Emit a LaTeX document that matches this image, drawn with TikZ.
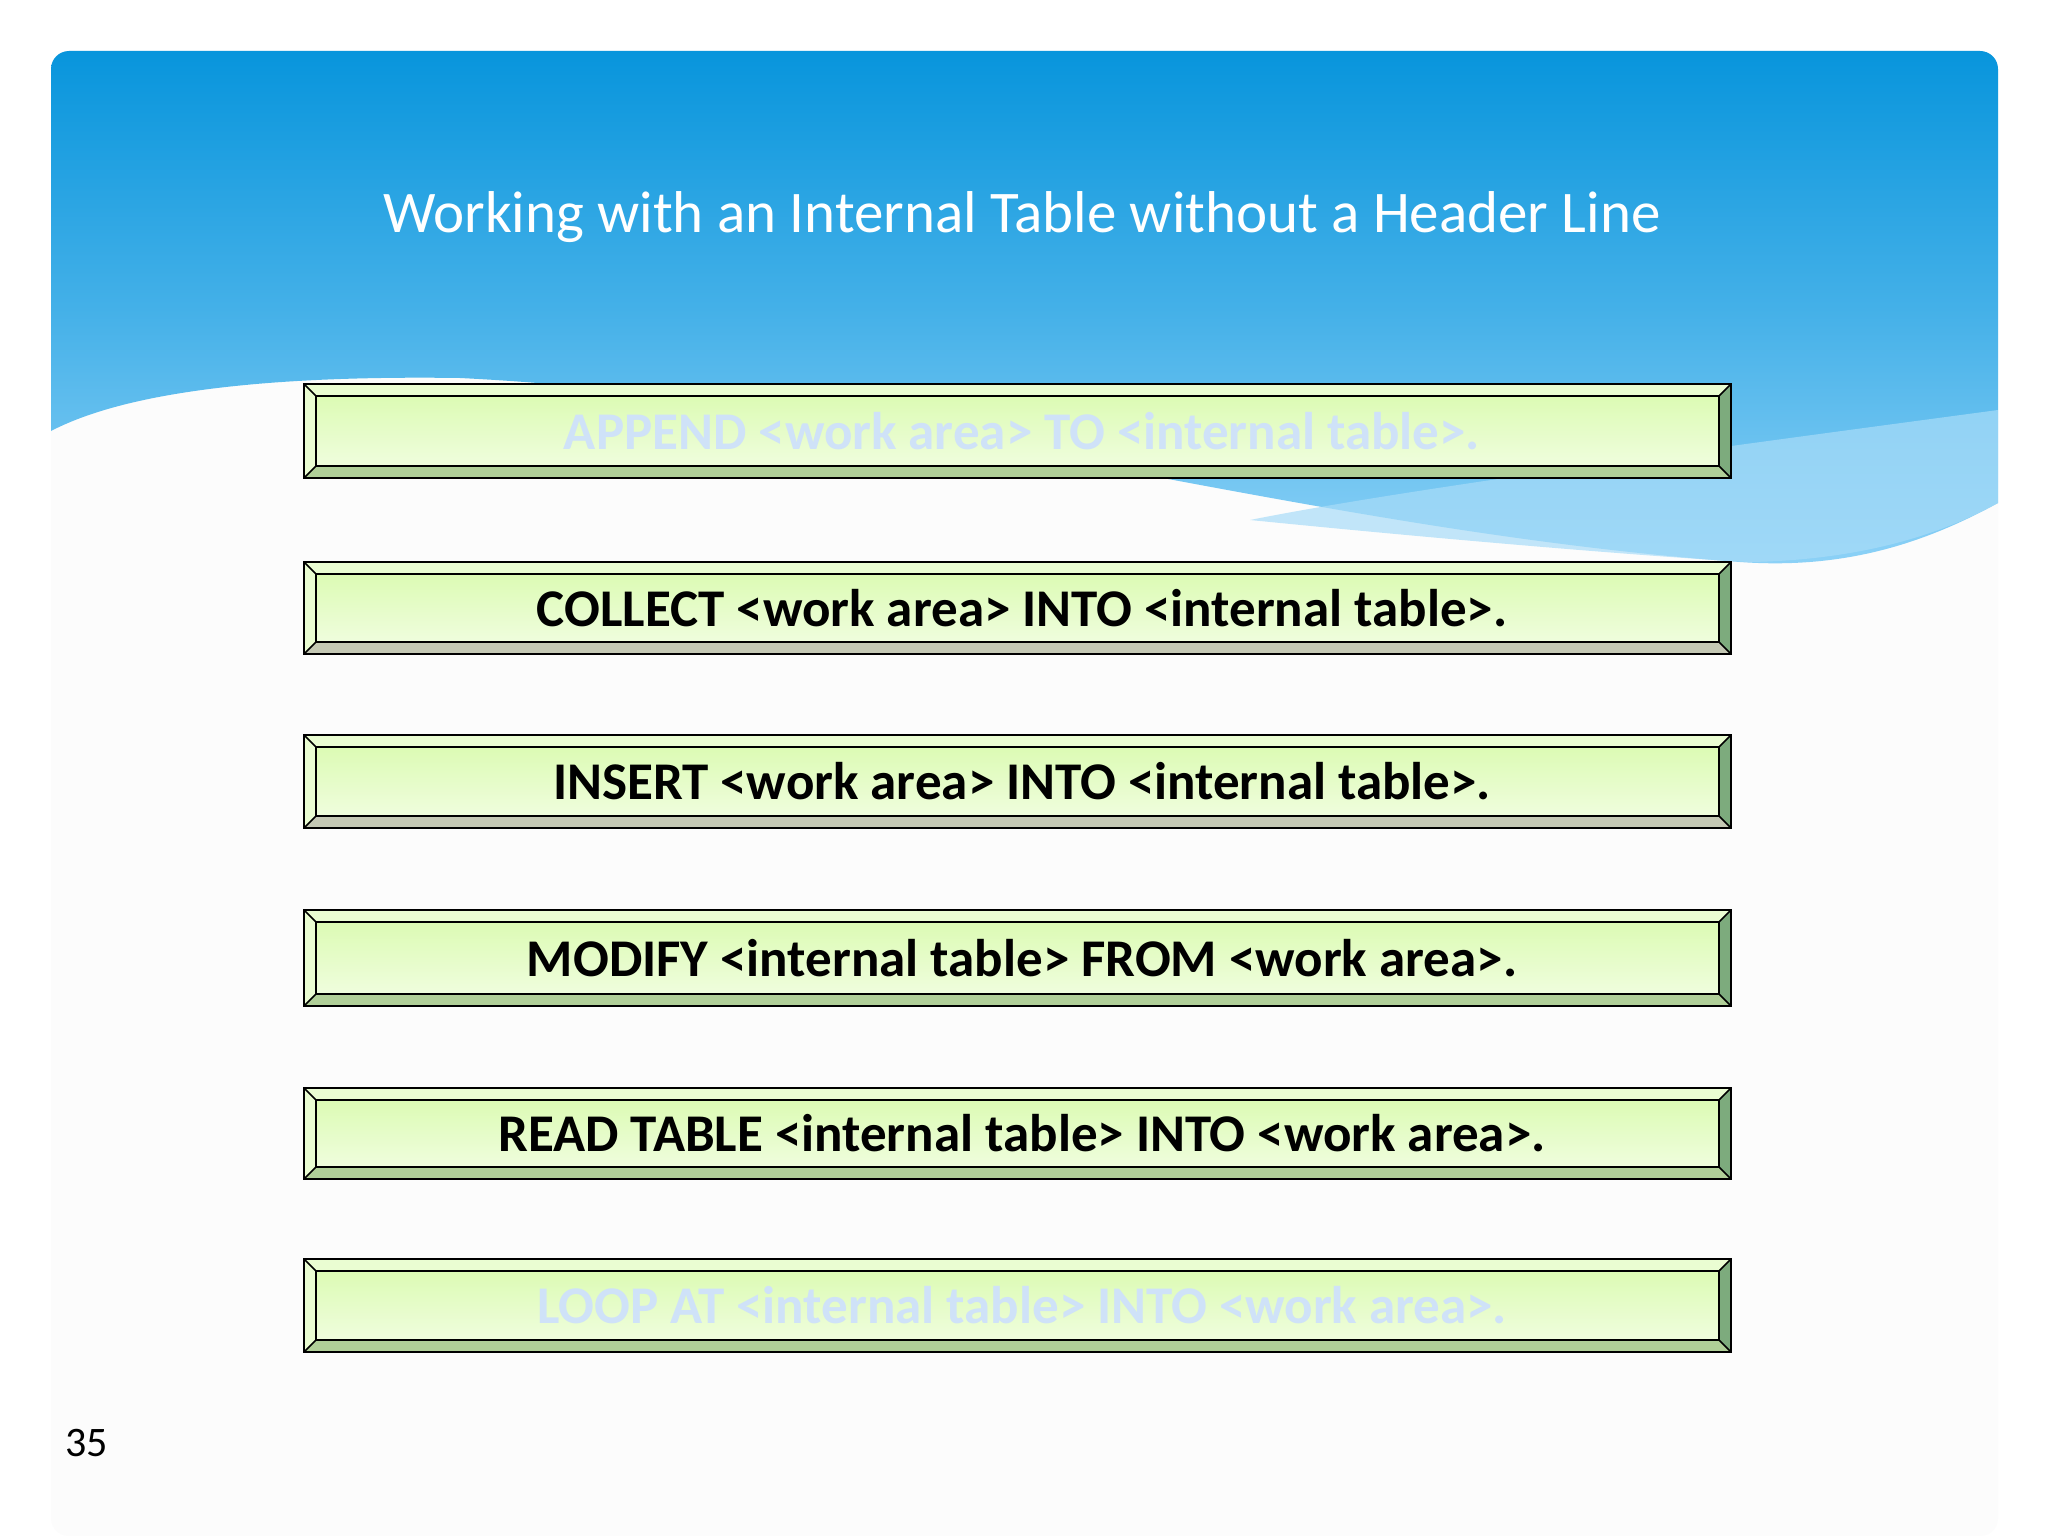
\documentclass[tikz,border=0pt]{standalone}
\usepackage{fontspec}
\setmainfont{Carlito}
\begin{document}
\begin{tikzpicture}[x=1pt,y=-1pt,
  outl/.style={draw=black,line width=2.2pt,line join=miter},
  lbl/.style={font=\fontsize{53}{58}\selectfont\bfseries,anchor=center}]
\definecolor{htop}{HTML}{0895DC}
\definecolor{hbot}{HTML}{8ED2F7}
\definecolor{hlight}{HTML}{A8DCF8}
\useasboundingbox (0,0) rectangle (2048,1536);
\fill[white] (0,0) rectangle (2048,1536);
\fill[white!98!gray,rounded corners=18pt] (51,51) rectangle (1998,1536);
% header
\begin{scope}
\clip[rounded corners=18pt] (51,51) rectangle (1998,700);
\shade[top color=htop, bottom color=hbot, middle color=htop!55!hbot,
  shading angle=0]
  (51,51) -- (1998,51) -- (1998,503) .. controls (1930,540) and (1850,570) .. (1740,562)
  .. controls (1300,530) and (900,400) .. (460,378)
  .. controls (250,375) and (120,395) .. (51,431) -- cycle;
\fill[hlight,opacity=0.7] (1998,410) .. controls (1700,450) and (1400,490) .. (1250,520)
  .. controls (1500,545) and (1700,560) .. (1750,562) .. controls (1860,560) and (1940,535) .. (1998,503) -- cycle;
\end{scope}
\node[font=\fontsize{59}{64}\selectfont,text=white] (title) at (1022,217) {Working with an Internal Table without a Header Line};
\node[font=\fontsize{42}{46}\selectfont,anchor=west] (pg) at (62,1443) {35};
\newcommand{\bvbox}[6]{%
  \fill[#4] (304,#2) rectangle (1731,#3);
  \fill[#4!60!white] (304,#2) -- (1731,#2) -- (1719,#2+12) -- (316,#2+12) -- cycle;
  \fill[#4!60!white] (304,#2) -- (316,#2+12) -- (316,#3-12) -- (304,#3) -- cycle;
  \fill[#5] (304,#3) -- (316,#3-12) -- (1719,#3-12) -- (1731,#3) -- cycle;
  \fill[gray!50!green!60!black!60] (1731,#2) -- (1719,#2+12) -- (1719,#3-12) -- (1731,#3) -- cycle;
  \shade[top color=#4, bottom color=#4!45!white] (316,#2+12) rectangle (1719,#3-12);
  \draw[outl] (304,#2) rectangle (1731,#3);
  \draw[outl,line width=1.6pt] (316,#2+12) rectangle (1719,#3-12);
  \draw[outl,line width=1.6pt] (304,#2) -- (316,#2+12) (1731,#2) -- (1719,#2+12)
     (304,#3) -- (316,#3-12) (1731,#3) -- (1719,#3-12);
  \node[lbl] (#1) at (1022,{(#2+#3)/2}) {#6};
}
\definecolor{lg}{HTML}{DCFBB4}
\definecolor{lgb}{HTML}{B0CF98}
\definecolor{lgg}{HTML}{C4C8B4}
\definecolor{faint}{HTML}{CFE2F8}
\bvbox{b1}{384}{478}{lg}{lgb}{\textcolor{faint}{APPEND <work area> TO <internal table>.}}
\bvbox{b2}{562}{654}{lg}{lgg}{COLLECT <work area> INTO <internal table>.}
\bvbox{b3}{735}{828}{lg}{lgg}{INSERT <work area> INTO <internal table>.}
\bvbox{b4}{910}{1006}{lg}{lgb}{MODIFY <internal table> FROM <work area>.}
\bvbox{b5}{1088}{1179}{lg}{lgb}{READ TABLE <internal table> INTO <work area>.}
\bvbox{b6}{1259}{1352}{lg}{lgb}{\textcolor{faint}{LOOP AT <internal table> INTO <work area>.}}
\end{tikzpicture}
\end{document}
